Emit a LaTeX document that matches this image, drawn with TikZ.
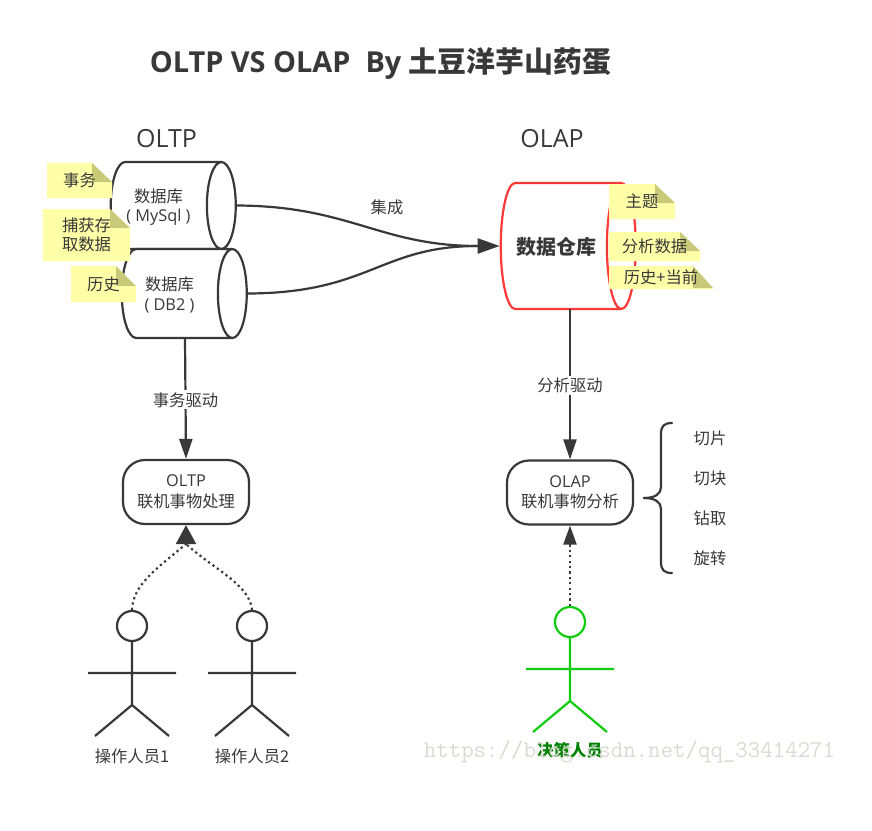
\documentclass[tikz,border=0pt]{standalone}
\usepackage{fontspec}
\setmainfont{Open Sans}
\newfontfamily\cjk{Noto Sans CJK SC}
\usetikzlibrary{arrows.meta,shapes.geometric}
\definecolor{ink}{HTML}{383838}
\definecolor{notefill}{HTML}{FFFFA8}
\definecolor{notefold}{HTML}{C9C97A}
\definecolor{actorgreen}{HTML}{10CC10}
\definecolor{marktext}{HTML}{DADAD2}
\tikzset{
	every node/.style={text=ink,font=\fontsize{16.3}{19.5}\selectfont\cjk},
	cyl/.style={draw=ink,line width=2.2pt,fill=white,shape=cylinder,shape border rotate=0,aspect=0.76,inner sep=0pt,minimum height=#1},
	proc/.style={draw=ink,line width=2.2pt,rectangle,rounded corners=22pt,align=center,minimum width=126pt,minimum height=64pt,inner sep=0pt,font=\fontsize{16.3}{20.5}\selectfont\cjk},
	notetext/.style={inner sep=0pt,align=center},
	plain/.style={inner sep=0pt,align=center},
	tag/.style={inner sep=2pt,fill=white,yshift=-1.5pt},
	head/.style={draw=#1,line width=2.2pt,circle,minimum size=30pt,inner sep=0pt},
	link/.style={draw=ink,line width=2.2pt},
	solidarrow/.style={link,-{Triangle[length=20pt,width=13pt]}},
	dottedline/.style={link,dash pattern=on 2.2pt off 3.2pt}
}
\newcommand\cylbody{\phantom{\rule{70pt}{38pt}}}
\newcommand\stickynote[8]{
	\fill[notefill] (#2,#3) -- (#6,#3) -- (#4,#7) -- (#4,#5) -- (#2,#5) -- cycle;
	\fill[notefold] (#6,#3) -- (#4,#7) -- (#6,#7) -- cycle;
	\node[notetext] (#1) at ({(#2+#4)/2},{(#3+#5)/2}) {#8};
}
\newcommand\stickman[4]{
	\node[head=#4] (#1) at (#2,#3) {};
	\coordinate (#1hip) at (#2,#3+79);
	\coordinate (#1armL) at (#2-44,#3+47);
	\coordinate (#1armR) at (#2+44,#3+47);
	\coordinate (#1footL) at (#2-37,#3+110);
	\coordinate (#1footR) at (#2+37,#3+110);
	\draw[draw=#4,line width=2.2pt] (#1.south) -- (#1hip) (#1armL) -- (#1armR) (#1footL) -- (#1hip) -- (#1footR);
}
\begin{document}
\begin{tikzpicture}[x=1pt,y=-1pt]
	\useasboundingbox (0,0) rectangle (872,830);
	\node[plain,font=\fontsize{28.9}{32}\selectfont\rmfamily\bfseries] (title) at (380.5,64) {OLTP VS OLAP\ \ By {\cjk\bfseries 土豆洋芋山药蛋}};
	\node[plain,font=\fontsize{25}{30}\selectfont\rmfamily] (oltp) at (166.5,139) {OLTP};
	\node[plain,font=\fontsize{25}{30}\selectfont\rmfamily] (olap) at (552,139) {OLAP};

	\node[cyl=125pt,minimum width=87pt] (mysql) at (165.5,205.5) {\cylbody};
	\node[plain] (mysqltext) at (158.5,207) {数据库\\{\rmfamily ( MySql )}};
	\node[cyl=125pt,minimum width=89pt] (db2) at (176.5,293.5) {\cylbody};
	\node[plain] (db2text) at (169.5,295) {数据库\\{\rmfamily ( DB2 )}};
	\node[cyl=135pt,minimum width=126pt,draw=red!78!white] (dw) at (560.5,246) {\cylbody};
	\node[plain,font=\fontsize{20}{24}\selectfont\cjk\bfseries] (dwtext) at (556,247) {数据仓库};

	\stickynote{affair}{47}{163}{112}{198}{92}{182}{事务}
	\stickynote{capture}{43}{209}{130}{261}{110}{228}{捕获存\\取数据}
	\stickynote{history}{71}{266}{136}{302}{116}{286}{历史}
	\stickynote{subject}{609}{184}{675}{219}{655}{203}{主题}
	\stickynote{analysis}{609}{232}{700}{261}{680}{251}{分析数据}
	\stickynote{current}{609}{266}{713}{289}{693}{288}{历史+当前}

	\node[proc] (oltpbox) at (186,492) {{\rmfamily OLTP}\\联机事物处理};
	\node[proc] (olapbox) at (570,492.5) {{\rmfamily OLAP}\\联机事物分析};

	% integration curves
	\coordinate (dwin) at (478,246);
	\draw[link] (mysql.east) .. controls (350,206) and (380,246) .. (dwin);
	\draw[link] (db2.east) .. controls (370,293) and (380,246) .. (dwin);
	\draw[link,-{Triangle[length=22pt,width=15pt]}] (dwin) -- (dw.west);
	\node[plain] (integrate) at (387,207) {集成};

	\coordinate (dbout) at (185,338);
	\coordinate (dwout) at (570,309);
	\draw[solidarrow] (dbout) -- (oltpbox.north) node[tag,midway] (drivea) {事务驱动};
	\draw[solidarrow] (dwout) -- (olapbox.north) node[tag,midway] (driveb) {分析驱动};

	\stickman{opone}{132}{626}{ink}
	\stickman{optwo}{252}{626}{ink}
	\stickman{boss}{570}{622}{actorgreen}
	\node[plain] (oponename) at (132,756) {操作人员1};
	\node[plain] (optwoname) at (252,756) {操作人员2};
	\node[plain,text=green!50!black,font=\fontsize{16.3}{18}\selectfont\cjk\bfseries] (bossname) at (570,750) {决策人员};

	% user links
	\coordinate (oltpin) at (186,544);
	\draw[dottedline] (opone.north) .. controls (133,585) and (155,570) .. (oltpin);
	\draw[dottedline] (optwo.north) .. controls (250,585) and (215,570) .. (oltpin);
	\draw[link,-{Triangle[length=19pt,width=20pt]}] (oltpin) -- (oltpbox.south);
	\coordinate (olapin) at (570,544);
	\draw[dottedline] (boss.north) -- (olapin);
	\draw[link,-{Triangle[length=19pt,width=13pt]}] (olapin) -- (olapbox.south);

	% brace
	\coordinate (bracetip) at (644,498);
	\draw[link,line cap=round] (672,423) .. controls (664,423) and (661,426) .. (661,434) -- (661,487) .. controls (661,494) and (655,498) .. (bracetip);
	\draw[link,line cap=round] (672,573) .. controls (664,573) and (661,570) .. (661,562) -- (661,509) .. controls (661,502) and (655,498) .. (bracetip);
	\node[plain] (slice) at (710,438) {切片};
	\node[plain] (dice) at (710,478) {切块};
	\node[plain] (drill) at (710,518) {钻取};
	\node[plain] (rotate) at (710,558) {旋转};

	\node[plain,text=marktext,font=\fontsize{24.2}{26}\selectfont\ttfamily] (mark) at (629.5,752) {https://blog.csdn.net/qq\_33414271};
\end{tikzpicture}
\end{document}
